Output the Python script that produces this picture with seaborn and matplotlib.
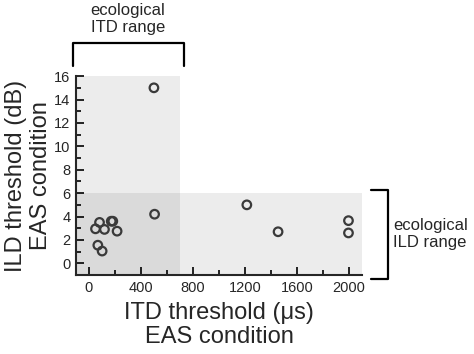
import matplotlib
matplotlib.use("Agg")
import matplotlib.pyplot as plt
import seaborn as sns
import pandas as pd
from matplotlib.ticker import MultipleLocator

# ITD / ILD thresholds, EAS condition
itd_us = [500, 505, 82, 51, 120, 172, 184, 217, 69, 102, 1214, 1454, 1995, 1995]
ild_db = [15.0, 4.2, 3.5, 2.95, 2.9, 3.6, 3.6, 2.75, 1.55, 1.05, 5.0, 2.7, 3.65, 2.6]

itd_range = [-100, 700]   # ecological ITD range (us)
ild_range = [-1, 6]       # ecological ILD range (dB)

df = pd.DataFrame({"itd": itd_us, "ild": ild_db})

sns.set_style("ticks")
plt.rcParams["font.family"] = ["Liberation Sans", "DejaVu Sans"]

fig = plt.figure(figsize=(4.74, 3.54), dpi=100)
ax = fig.add_axes([0.160, 0.223, 0.604, 0.562])

# shaded ecological ranges
ax.axvspan(itd_range[0], itd_range[1], color="black", alpha=0.075, lw=0)
ax.axhspan(ild_range[0], ild_range[1], color="black", alpha=0.075, lw=0)

sns.scatterplot(data=df, x="itd", y="ild", ax=ax, marker="o", s=38,
                facecolors="none", edgecolor="#3a3a3a", linewidth=1.6, zorder=3)

ax.set_xlim(-100, 2100)
ax.set_ylim(-1, 16)
ax.xaxis.set_major_locator(MultipleLocator(400))
ax.xaxis.set_minor_locator(MultipleLocator(200))
ax.yaxis.set_major_locator(MultipleLocator(2))
ax.yaxis.set_minor_locator(MultipleLocator(1))
ax.tick_params(which="both", direction="in", width=1.4, labelsize=10.5, pad=4)
ax.tick_params(which="major", length=6)
ax.tick_params(which="minor", length=3.5)
for side in ["left", "bottom"]:
    ax.spines[side].set_linewidth(1.5)
sns.despine(ax=ax)

ax.set_xlabel("ITD threshold (\u03bcs)\nEAS condition", fontsize=17, linespacing=1.15)
ax.set_ylabel("ILD threshold (dB)\nEAS condition", fontsize=17, linespacing=1.15)
ax.xaxis.set_label_coords(0.5, -0.135)
ax.yaxis.set_label_coords(-0.085, 0.5)

# brackets
ax.plot([itd_range[0] - 20, itd_range[0] - 20, 730, 730], [16.9, 18.8, 18.8, 16.9],
        color="black", lw=1.6, clip_on=False)
ax.text(300, 20.9, "ecological\nITD range", ha="center", va="center", fontsize=12)
ax.plot([2170, 2300, 2300, 2170], [6.25, 6.25, -1.3, -1.3],
        color="black", lw=1.6, clip_on=False)
ax.text(2340, 2.5, "ecological\nILD range", ha="left", va="center", fontsize=12)

fig.savefig("out.png", dpi=100)
